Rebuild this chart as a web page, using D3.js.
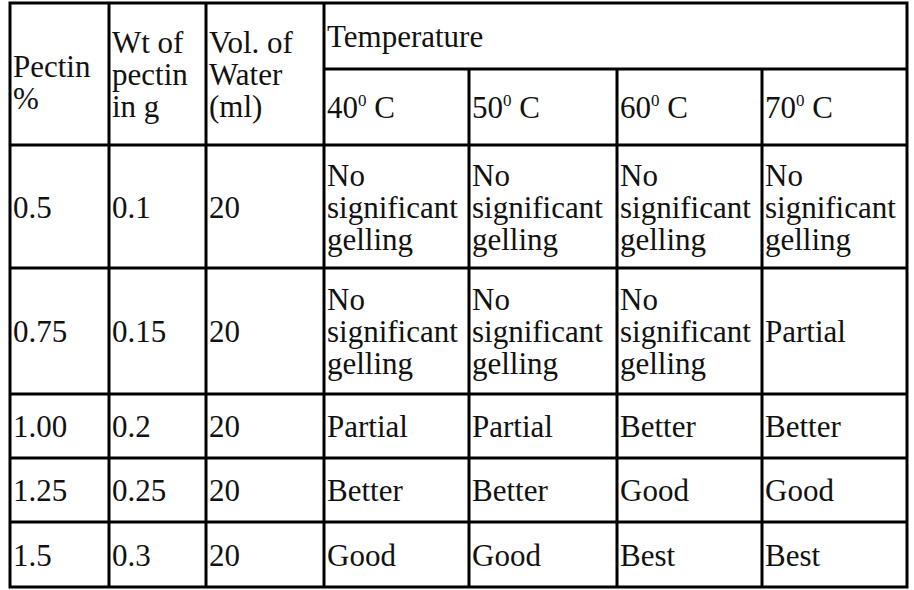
<!DOCTYPE html>
<html><head><meta charset="utf-8">
<script src="https://cdn.jsdelivr.net/npm/d3@7"></script>
<style>body{margin:0;background:#fff}text{font-family:"Liberation Serif",serif;font-size:31px;fill:#111}</style>
</head><body><svg width="914" height="590"></svg>
<script>
var headers = [["Pectin", "%"], ["Wt of", "pectin", "in g"], ["Vol. of", "Water", "(ml)"]];
var tempTitle = "Temperature";
var temps = ["40", "50", "60", "70"];
var pectin = ["0.5", "0.75", "1.00", "1.25", "1.5"];
var weight = ["0.1", "0.15", "0.2", "0.25", "0.3"];
var water = ["20", "20", "20", "20", "20"];
var results = [
    ["No significant gelling", "No significant gelling", "No significant gelling", "No significant gelling"],
    ["No significant gelling", "No significant gelling", "No significant gelling", "Partial"],
    ["Partial", "Partial", "Better", "Better"],
    ["Better", "Better", "Good", "Good"],
    ["Good", "Good", "Best", "Best"]
];

var colX = [10, 109, 206, 324, 469, 617, 762, 907];
var rowY = [145, 268, 394, 458, 522, 587];
var tableTop = 3, subY = 69, lineH = 32;
var svg = d3.select("svg");

function lines(label) {
    return label == "No significant gelling" ? ["No", "significant", "gelling"] : [label];
}

function cellText(x, y0, y1, ls, shift) {
    var mid = (y0 + y1) / 2 + (shift || 0);
    var t = svg.append("text");
    ls.forEach((l, i) => {
        t.append("tspan").attr("x", x + 3)
            .attr("y", mid + (i - (ls.length - 1) / 2) * lineH + 11)
            .text(l);
    });
}

// header
headers.forEach((h, i) => cellText(colX[i], tableTop, rowY[0], h, i == 0 ? 8 : 0));
cellText(colX[3], tableTop, subY, [tempTitle]);
temps.forEach((t, i) => {
    var el = svg.append("text").attr("x", colX[3 + i] + 3).attr("y", (subY + rowY[0]) / 2 + 11);
    el.append("tspan").text(t);
    el.append("tspan").attr("dy", -12).style("font-size", "17px").text("0");
    el.append("tspan").attr("dy", 12).text(" C");
});

// body
pectin.forEach((p, r) => {
    var y0 = rowY[r], y1 = rowY[r + 1];
    [p, weight[r], water[r]].forEach((v, c) => cellText(colX[c], y0, y1, [v]));
    results[r].forEach((v, c) => cellText(colX[3 + c], y0, y1, lines(v)));
});

// grid lines
var g = svg.append("g").attr("stroke", "#000").attr("stroke-width", 3);
g.append("rect").attr("x", colX[0]).attr("y", tableTop).attr("width", colX[7] - colX[0]).attr("height", rowY[5] - tableTop).attr("fill", "none");
colX.slice(1, 7).forEach((x, i) => {
    g.append("line").attr("x1", x).attr("x2", x).attr("y1", i < 3 ? tableTop : subY).attr("y2", rowY[5]);
});
g.append("line").attr("x1", colX[3]).attr("x2", colX[7]).attr("y1", subY).attr("y2", subY);
rowY.slice(0, 5).forEach(y => {
    g.append("line").attr("x1", colX[0]).attr("x2", colX[7]).attr("y1", y).attr("y2", y);
});
</script></body></html>
